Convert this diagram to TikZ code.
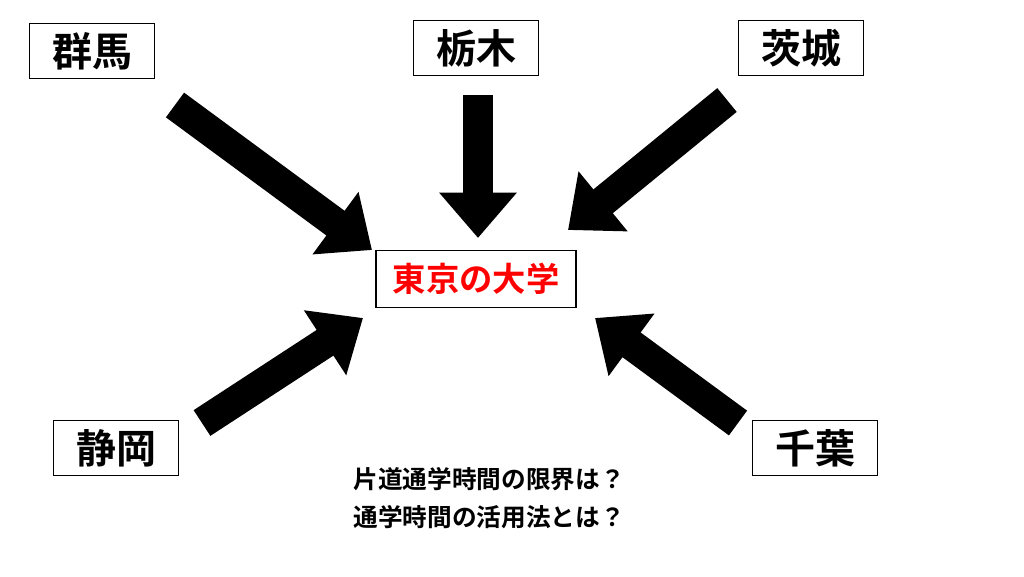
\documentclass[tikz,border=0pt]{standalone}
\usepackage{fontspec}
\newfontfamily\cjk[BoldFont={Noto Sans CJK JP Bold}]{Noto Sans CJK JP}
\usetikzlibrary{arrows.meta}
\begin{document}
\begin{tikzpicture}[x=0.75pt,y=-0.75pt,
  pref/.style={draw,line width=0.8pt,minimum width=94pt,minimum height=41pt,font=\cjk\bfseries\fontsize{30}{30}\selectfont},
  big/.style={line width=23pt,-{Triangle[length=34pt,width=56pt]}}]
\useasboundingbox (0,0) rectangle (1024,576);
\node[pref] (gunma) at (92,51) {群馬};
\node[pref] (tochigi) at (476,48) {栃木};
\node[pref] (ibaraki) at (801,48) {茨城};
\node[pref] (shizuoka) at (116,448) {静岡};
\node[pref] (chiba) at (815,448) {千葉};
\node[draw,line width=0.8pt,minimum width=150pt,minimum height=43pt,text=red,font=\cjk\bfseries\fontsize{25}{25}\selectfont] (tokyo) at (476,279) {東京の大学};
\node[font=\cjk\bfseries\fontsize{18.5}{28}\selectfont,align=center] (q) at (489,498) {片道通学時間の限界は？\\通学時間の活用法とは？};
\coordinate (a1) at (175,105); \coordinate (b1) at (372,250);
\coordinate (a2) at (478,95); \coordinate (b2) at (478,238);
\coordinate (a3) at (727,100); \coordinate (b3) at (568,230);
\coordinate (a4) at (202,423); \coordinate (b4) at (363,318);
\coordinate (a5) at (738,423); \coordinate (b5) at (595,318);
\draw[big] (a1) -- (b1);
\draw[big] (a2) -- (b2);
\draw[big] (a3) -- (b3);
\draw[big] (a4) -- (b4);
\draw[big] (a5) -- (b5);
\end{tikzpicture}
\end{document}
